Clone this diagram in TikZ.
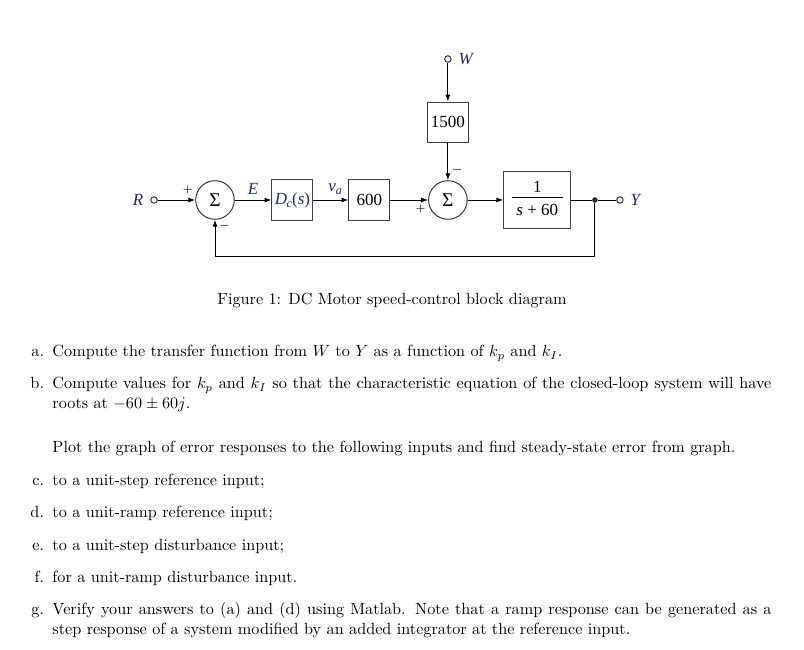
\documentclass[tikz,border=0pt]{standalone}
\usepackage{amssymb,amsmath}
\usepackage{fontspec}
\newfontfamily\blockfont{Liberation Serif}
\usepackage{tikz}
\usetikzlibrary{positioning,arrows.meta}
\definecolor{lblcol}{RGB}{35,45,95}

\begin{document}
\begin{tikzpicture}[x=0.617pt,y=-0.617pt,on grid,auto,line width=0.6pt,
 >={Latex[length=4.3pt,width=3.1pt]},
 sum/.style={draw=black!80,circle,minimum size=23.8pt,inner sep=0pt,font=\blockfont\fontsize{12}{12}\selectfont},
 block/.style={draw=black!75,minimum width=25.3pt,minimum height=24.7pt,inner sep=1pt,font=\blockfont\fontsize{10.5}{12}\selectfont},
 port/.style={draw=black!80,circle,minimum size=4pt,inner sep=0pt,fill=white},
 lbl/.style={text=lblcol,font=\blockfont\itshape\fontsize{10.5}{12}\selectfont,inner sep=3pt},
 sgn/.style={text=black!75,font=\blockfont\fontsize{10.5}{10}\selectfont,inner sep=2.5pt},
 txt/.style={anchor=base west,inner sep=0pt,font=\fontsize{10}{12}\selectfont},
 itm/.style={anchor=base east,inner sep=0pt,font=\fontsize{10}{12}\selectfont}]
 \useasboundingbox (0,0) rectangle (804,650);
 % block diagram
 \node[sum] (sum_1) at (215,200) {Σ};
 \node[port,label={[lbl,inner sep=4pt]left:R}] (in_r) [left=37.6pt of sum_1] {};
 \node[block,text=lblcol] (b_dc) [right=47.8pt of sum_1] {\textit{D}\kern-0.3pt\raisebox{-0.45ex}{\fontsize{7.5}{8}\selectfont\textit{c}}(\textit{s})};
 \node[block] (b_600) [right=47.5pt of b_dc] {600};
 \node[sum] (sum_2) [right=48.4pt of b_600] {Σ};
 \node[block] (b_w) [above=48.1pt of sum_2] {1500};
 \node[port,label={[lbl,inner sep=4pt]right:W}] (in_w) [above=38.9pt of b_w] {};
 \node[block,minimum width=41.3pt,minimum height=35.2pt] (b_plant) [right=55.2pt of sum_2]
  {\begin{tabular}{@{\hspace{3pt}}c@{\hspace{3pt}}}1\\[-1pt]\hline\rule{0pt}{11pt}\textit{s} + 60\end{tabular}};
 \node[circle,fill=black!85,inner sep=0pt,minimum size=3.4pt] (j_y) [right=35.5pt of b_plant] {};
 \node[port,label={[lbl,inner sep=4pt]right:Y}] (out_y) [right=15.4pt of j_y] {};
 \coordinate[below=34.6pt of j_y] (fb);
 \path[->]
 (in_r) edge node[sgn,pos=0.8] {+} (sum_1)
 (sum_1) edge node[lbl] {E} (b_dc)
 (b_dc) edge node[lbl,pos=0.62] {v\raisebox{-0.45ex}{\fontsize{7.5}{8}\selectfont a}} (b_600)
 (b_600) edge node[sgn,pos=0.8,swap] {+} (sum_2)
 (in_w) edge (b_w)
 (b_w) edge node[sgn,pos=0.8] {−} (sum_2)
 (sum_2) edge (b_plant);
 \path (b_plant) edge (j_y) (j_y) edge (out_y);
 \draw[->] (j_y) -- (fb) -| node[sgn,pos=0.88,right] {−} (sum_1);
 % caption and questions
 \node[txt] (cap) at (217,305) {Figure 1: DC Motor speed-control block diagram};
 \node[itm] (lab_a) at (44.5,357) {a.};
 \node[txt,text width=443.6pt,align=left] (it_a) at (52,357) {Compute the transfer function from $W$ to $Y$ as a function of $k_p$ and $k_I$.};
 \node[itm] (lab_b) at (44.5,389) {b.};
 \node[txt,text width=443.6pt,align=justify] (it_b) at (52,389) {Compute values for $k_p$ and $k_I$ so that the characteristic equation of the closed-loop system will have roots at $-60\pm60j$.};
 \node[txt] (plot) at (52,453) {Plot the graph of error responses to the following inputs and find steady-state error from graph.};
 \node[itm] (lab_c) at (44.5,486) {c.};
 \node[txt] (it_c) at (52,486) {to a unit-step reference input;};
 \node[itm] (lab_d) at (44.5,518) {d.};
 \node[txt] (it_d) at (52,518) {to a unit-ramp reference input;};
 \node[itm] (lab_e) at (44.5,551) {e.};
 \node[txt] (it_e) at (52,551) {to a unit-step disturbance input;};
 \node[itm] (lab_f) at (44.5,583) {f.};
 \node[txt] (it_f) at (52,583) {for a unit-ramp disturbance input.};
 \node[itm] (lab_g) at (44.5,615) {g.};
 \node[txt,text width=443.6pt,align=justify] (it_g) at (52,615) {Verify your answers to (a) and (d) using Matlab. Note that a ramp response can be generated as a step response of a system modified by an added integrator at the reference input.};
\end{tikzpicture}
\end{document}
